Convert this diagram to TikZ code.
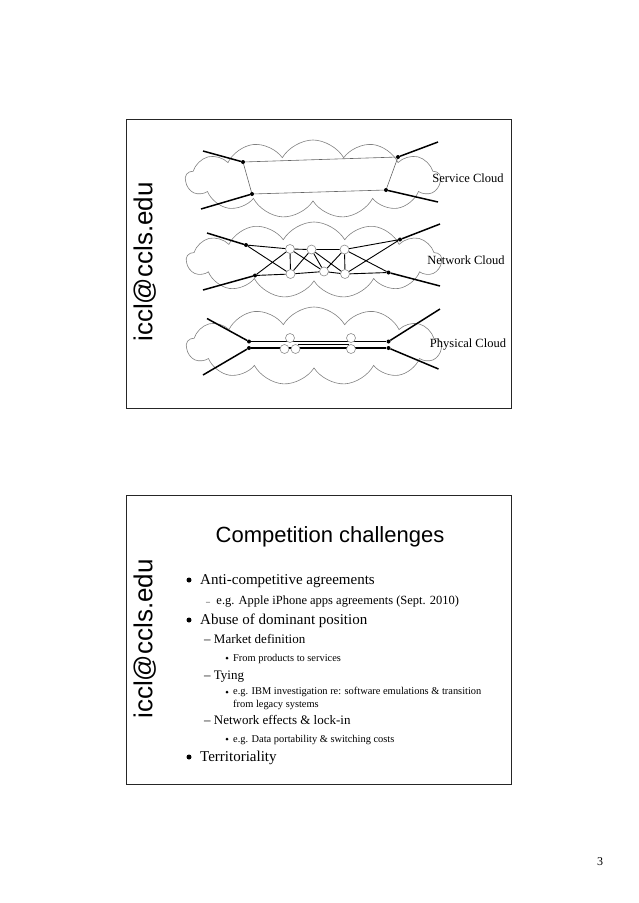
\documentclass[tikz,border=0pt]{standalone}
\usepackage{fontspec}
\setmainfont{Liberation Serif}
\setsansfont{Liberation Sans}
\usetikzlibrary{shapes.symbols}

\begin{document}
\begin{tikzpicture}[x=1pt, y=-1pt,
    skycloud/.style={cloud, draw=black!50, line width=0.6pt, cloud puffs=13, cloud puff arc=120,
      cloud ignores aspect, minimum width=255pt, minimum height=78pt, inner sep=0pt},
    hub/.style={circle, fill=black, inner sep=0pt, minimum size=4pt},
    relay/.style={circle, draw=black!45, fill=white, line width=0.6pt, inner sep=0pt, minimum size=9pt},
    trunk/.style={line width=1.5pt},
    link/.style={line width=0.9pt},
    hair/.style={draw=black!60, line width=0.6pt},
    lbl/.style={font=\fontsize{12.5}{14}\selectfont},
    mail/.style={rotate=90, anchor=mid, font=\sffamily\fontsize{26}{30}\selectfont},
    bul/.style={circle, fill=black, inner sep=0pt, minimum size=5pt},
    smallbul/.style={circle, fill=black, inner sep=0pt, minimum size=3pt},
    lvlone/.style={anchor=mid west, inner sep=0pt, font=\fontsize{15}{18}\selectfont},
    lvltwo/.style={anchor=mid west, inner sep=0pt, font=\fontsize{13}{15}\selectfont},
    lvlthree/.style={anchor=mid west, inner sep=0pt, align=left, font=\fontsize{10.4}{13}\selectfont}]

  \useasboundingbox (0,0) rectangle (638,903);

  % slide 1: three clouds
  \draw[line width=0.9pt, draw=black!85] (126,119) rectangle (511,408);
  \node[mail] (mailtop) at (150,262) {iccl@ccls.edu};
  \node[skycloud] (svc) at (313,179) {};
  \node[skycloud, minimum height=76pt] (net) at (314,260) {};
  \node[skycloud] (phy) at (314,346) {};
  \node[lbl] (svclbl) at (468,178) {Service Cloud};
  \node[lbl] (netlbl) at (466,260) {Network Cloud};
  \node[lbl] (phylbl) at (468,345) {Physical Cloud};

  % service cloud
  \node[hub] (sa) at (243,162) {};
  \node[hub] (sb) at (252,194) {};
  \node[hub] (sc) at (398,157) {};
  \node[hub] (sd) at (386,190) {};
  \coordinate (sa0) at (203,151);
  \coordinate (sb0) at (201,209);
  \coordinate (sc0) at (438,142);
  \coordinate (sd0) at (438,202);
  \draw[trunk] (sa0) -- (sa);
  \draw[trunk] (sb0) -- (sb);
  \draw[trunk] (sc) -- (sc0);
  \draw[trunk] (sd) -- (sd0);
  \draw[hair] (sa) -- (sc) (sb) -- (sd) (sa) -- (sb) (sc) -- (sd);

  % network cloud
  \node[hub] (nl1) at (246,245) {};
  \node[hub] (nl2) at (255,275.5) {};
  \node[hub] (nr1) at (400,239.5) {};
  \node[hub] (nr2) at (388.5,272.5) {};
  \node[relay] (t1) at (290,249) {};
  \node[relay] (t2) at (311.5,249.5) {};
  \node[relay] (t3) at (344.5,249.5) {};
  \node[relay] (b1) at (290.5,274) {};
  \node[relay] (b2) at (324,271.5) {};
  \node[relay] (b3) at (345,274) {};
  \coordinate (nl10) at (207,233);
  \coordinate (nl20) at (203,290);
  \coordinate (nr10) at (440,224);
  \coordinate (nr20) at (440,286);
  \draw[trunk] (nl10) -- (nl1);
  \draw[trunk] (nl20) -- (nl2);
  \draw[trunk] (nr1) -- (nr10);
  \draw[trunk] (nr2) -- (nr20);
  \draw[link] (nl1) -- (t1) (nl1) -- (b1) (nl2) -- (b1) (nl2) -- (t1);
  \draw[link] (t1) -- (t2) (t2) -- (t3) (b1) -- (b2) (b2) -- (b3);
  \draw[link] (t1) -- (b1) (t3) -- (b3) (t2) -- (b1) (t1) -- (b2);
  \draw[link] (t2) -- (b2) (t2) -- (b3) (t3) -- (b2);
  \draw[link] (t3) -- (nr1) (t3) -- (nr2) (b3) -- (nr1) (b3) -- (nr2);

  % physical cloud
  \node[hub] (pl1) at (249,341.5) {};
  \node[hub] (pl2) at (249,348) {};
  \node[hub] (pr1) at (388.5,341.5) {};
  \node[hub] (pr2) at (388.5,348) {};
  \coordinate (pl10) at (207,318.5);
  \coordinate (pl20) at (203,375);
  \coordinate (pr10) at (440,309);
  \coordinate (pr20) at (438.5,369);
  \draw[trunk] (pl10) -- (pl1);
  \draw[trunk] (pl20) -- (pl2);
  \draw[trunk] (pr1) -- (pr10);
  \draw[trunk] (pr2) -- (pr20);
  \draw[trunk] (pl1) -- (pr1);
  \draw[trunk] (pl2) -- (pr2);
  \node[relay] (p1) at (290,338) {};
  \node[relay] (p2) at (284.5,349) {};
  \node[relay] (p3) at (295.5,349) {};
  \node[relay] (p4) at (351,338) {};
  \node[relay] (p5) at (351,349) {};
  \draw[link, line width=0.7pt] (p3.65) -- (p5.115);

  % slide 2: competition challenges
  \draw[line width=0.9pt, draw=black!85] (126,495) rectangle (511,784);
  \node[mail] (mailbot) at (150,639) {iccl@ccls.edu};
  \node[font=\sffamily\fontsize{22}{26}\selectfont] (title) at (330,537) {Competition challenges};

  \node[bul] (ba) at (189,580) {};
  \node[lvlone] (anti) at (200,582) {Anti-competitive agreements};
  \node[anchor=mid west, inner sep=0pt, font=\fontsize{12.5}{14}\selectfont] (apple) at (206,602)
    {\fontsize{8}{9}\selectfont–\fontsize{12.5}{14}\selectfont\ \ e.g. Apple iPhone apps agreements (Sept. 2010)};
  \node[bul] (bb) at (189,620) {};
  \node[lvlone] (abuse) at (200,622) {Abuse of dominant position};
  \node[lvltwo] (market) at (204,641) {–\ Market definition};
  \node[smallbul] (bc) at (227,658) {};
  \node[lvlthree] (prod) at (233,659) {From products to services};
  \node[lvltwo] (tying) at (204,677) {–\ Tying};
  \node[smallbul] (bd) at (227,692) {};
  \node[lvlthree, anchor=north west] (ibm) at (233,686.5)
    {e.g. IBM investigation re: software emulations \& transition\\from legacy systems};
  \node[lvltwo] (lockin) at (204,722) {–\ Network effects \& lock-in};
  \node[smallbul] (be) at (227,739) {};
  \node[lvlthree] (data) at (233,740) {e.g. Data portability \& switching costs};
  \node[bul] (bf) at (189,757) {};
  \node[lvlone] (terr) at (200,759) {Territoriality};

  \node[font=\fontsize{12}{14}\selectfont] (pageno) at (600,862) {3};
\end{tikzpicture}
\end{document}
